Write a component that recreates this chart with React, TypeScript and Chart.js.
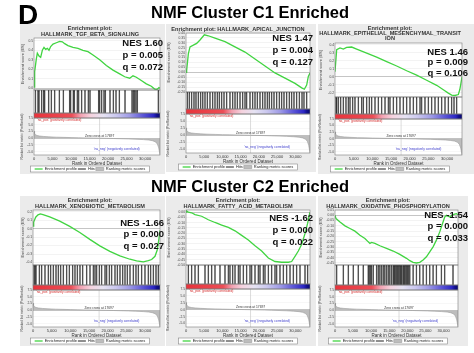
import React, { useEffect, useRef } from "react";
import { Chart, registerables } from "chart.js";

Chart.register(...registerables);
const FONT = '"Liberation Sans", Arial, Helvetica, sans-serif';
Chart.defaults.font.family = FONT;

// ---------------- data ----------------
const X_MAX = 34000;
const xTickValues = [0, 5000, 10000, 15000, 20000, 25000, 30000];
const rankTickValues = [-5, -2.5, 0, 2.5, 5, 7.5];
const zeroCross = 17697;
const negLabelRank = 28500;

const rankedX = [0, 150, 400, 800, 1500, 2500, 4000, 6000, 8000, 10000, 12000, 14000, 16000, 17697, 19500, 21500, 23500, 25500, 27500, 29500, 31000, 32000, 32800, 33300, 33650, 34000];
const rankedY = [2.6, 1.8, 1.3, 1.0, 0.8, 0.65, 0.5, 0.38, 0.3, 0.22, 0.16, 0.1, 0.05, 0, -0.06, -0.12, -0.2, -0.28, -0.38, -0.52, -0.7, -0.95, -1.4, -2.2, -3.6, -6.2];

const titles1 = ["Enrichment plot:", "HALLMARK_TGF_BETA_SIGNALING"];
const titles2 = ["Enrichment plot: HALLMARK_APICAL_JUNCTION"];
const titles3 = ["Enrichment plot:", "HALLMARK_EPITHELIAL_MESENCHYMAL_TRANSIT", "ION"];
const titles4 = ["Enrichment plot:", "HALLMARK_XENOBIOTIC_METABOLISM"];
const titles5 = ["Enrichment plot:", "HALLMARK_FATTY_ACID_METABOLISM"];
const titles6 = ["Enrichment plot:", "HALLMARK_OXIDATIVE_PHOSPHORYLATION"];

const es1Rank = [0, 180, 630, 900, 1350, 1800, 2250, 2700, 3150, 3600, 4050, 4500, 5130, 6030, 6930, 7650, 8280, 9170, 10520, 11870, 13220, 14570, 15920, 17720, 19520, 21320, 23120, 24470, 25820, 26710, 27610, 28960, 30310, 31660, 32560, 33190, 33730, 34000];
const es1Val = [0.01, 0.175, 0.31, 0.37, 0.34, 0.325, 0.4, 0.43, 0.41, 0.42, 0.4, 0.44, 0.465, 0.48, 0.495, 0.49, 0.47, 0.45, 0.43, 0.42, 0.4, 0.385, 0.35, 0.3, 0.24, 0.19, 0.15, 0.12, 0.105, 0.13, 0.115, 0.08, 0.045, 0.02, -0.01, -0.015, 0.005, 0.0];
const es1Ticks = [0.0, 0.1, 0.2, 0.3, 0.4, 0.5];
const hits1 = [400, 1080, 1350, 2070, 2610, 2880, 3960, 4680, 5580, 6840, 7920, 9620, 9890, 10610, 10880, 11690, 12050, 12860, 13760, 14660, 15110, 17450, 17720, 18260, 18890, 19250, 20510, 21410, 22130, 23030, 24560, 26450, 26800, 27160, 27520, 27880, 33550];

const es2Rank = [0, 180, 640, 1100, 2010, 2920, 3840, 5030, 6120, 7950, 10690, 13430, 16180, 18920, 21660, 24400, 27150, 29890, 31720, 32450, 33090, 33540, 34000];
const es2Val = [0.0, 0.02, 0.188, 0.259, 0.276, 0.294, 0.329, 0.382, 0.372, 0.347, 0.312, 0.259, 0.206, 0.135, 0.065, -0.006, -0.059, -0.112, -0.158, -0.172, -0.129, -0.041, -0.006];
const es2Ticks = [-0.2, -0.15, -0.1, -0.05, 0.0, 0.05, 0.1, 0.15, 0.2, 0.25, 0.3, 0.35, 0.4];
const hits2 = [370, 910, 1550, 2190, 2740, 3380, 4020, 4600, 5210, 5850, 6580, 7310, 7950, 8590, 9140, 9780, 10420, 11150, 12060, 12800, 13440, 14080, 14810, 15540, 16180, 16630, 17550, 18280, 18920, 19560, 20290, 21020, 21660, 22300, 22850, 23490, 24130, 24860, 25590, 26230, 26870, 27600, 28330, 28970, 29610, 30340, 31080, 31810, 32350, 33090];

const es3Rank = [0, 450, 1340, 2230, 3120, 4460, 5800, 8480, 11150, 13830, 16510, 19190, 21860, 24540, 27220, 29000, 30340, 31230, 32130, 33020, 33400, 33700, 34000];
const es3Val = [0.063, 0.337, 0.358, 0.345, 0.366, 0.37, 0.345, 0.295, 0.244, 0.189, 0.135, 0.076, 0.021, -0.042, -0.105, -0.16, -0.202, -0.227, -0.231, -0.219, -0.16, -0.084, 0.0];
const es3Ticks = [-0.2, -0.1, 0.0, 0.1, 0.2, 0.3, 0.4];
const hits3 = [270, 450, 890, 1520, 2230, 2940, 3570, 4020, 4730, 5350, 6250, 7140, 7590, 8480, 9190, 9820, 10710, 11600, 12490, 13390, 14280, 14720, 15620, 16510, 17400, 18290, 19190, 20080, 20970, 21860, 22760, 23200, 24090, 24990, 25880, 26770, 27660, 28560, 29450, 30340, 31230, 31860, 32570];

const es4Rank = [0, 180, 720, 1340, 1970, 2680, 4470, 7160, 9840, 12530, 15210, 17890, 20580, 23260, 25950, 27740, 29530, 30870, 31760, 32660, 33280, 33730, 34000];
const es4Val = [0.03, 0.077, 0.135, 0.162, 0.173, 0.165, 0.138, 0.088, 0.027, -0.046, -0.127, -0.204, -0.269, -0.323, -0.362, -0.381, -0.392, -0.377, -0.365, -0.327, -0.25, -0.115, -0.02];
const es4Ticks = [-0.4, -0.3, -0.2, -0.1, 0.0, 0.1, 0.2];
const hits4 = [270, 540, 800, 1700, 2320, 3210, 4100, 4730, 5440, 6160, 6780, 7410, 8120, 9010, 9730, 10620, 11240, 11870, 12580, 13300, 14370, 15260, 16150, 16600, 17040, 17760, 18380, 19280, 19720, 20440, 21060, 21950, 22580, 23290, 24010, 24630, 25250, 25970, 26860, 27570, 28200, 29090, 29980, 30870, 31500, 32220, 32930, 33550];

const es5Rank = [0, 180, 640, 1550, 2470, 4300, 6120, 7950, 9780, 11610, 13440, 15260, 17090, 18920, 20750, 22580, 24400, 26230, 28060, 28970, 29890, 30800, 31720, 32630, 33360, 33730, 34000];
const es5Val = [0.0, 0.01, 0.0, -0.006, -0.023, -0.039, -0.072, -0.098, -0.122, -0.145, -0.177, -0.22, -0.263, -0.319, -0.368, -0.434, -0.467, -0.474, -0.474, -0.467, -0.418, -0.368, -0.303, -0.204, -0.105, -0.039, 0.0];
const es5Ticks = [-0.5, -0.45, -0.4, -0.35, -0.3, -0.25, -0.2, -0.15, -0.1, -0.05, 0.0];
const hits5 = [640, 1550, 2470, 3380, 5210, 6120, 7040, 7950, 9320, 10690, 11610, 12060, 12800, 13440, 14350, 14810, 15720, 16630, 17550, 18010, 18920, 19830, 20290, 21200, 21660, 22580, 23490, 24400, 24860, 25770, 26690, 27600, 28520, 29430, 30340, 31260, 32630, 33360];

const es6Rank = [0, 280, 1380, 2760, 4140, 5510, 6890, 8270, 9190, 9650, 10110, 11030, 12410, 14240, 16080, 17920, 19760, 20680, 21590, 22510, 23430, 24350, 25270, 26190, 27110, 28030, 28950, 29870, 30320, 30780, 31700, 32620, 33540, 34000];
const es6Val = [0.0, -0.031, -0.063, -0.1, -0.125, -0.15, -0.188, -0.219, -0.251, -0.266, -0.257, -0.266, -0.288, -0.313, -0.338, -0.37, -0.407, -0.429, -0.445, -0.451, -0.445, -0.423, -0.392, -0.345, -0.298, -0.235, -0.157, -0.063, -0.016, 0.0, -0.016, 0.006, 0.016, 0.006];
const es6Ticks = [-0.45, -0.4, -0.35, -0.3, -0.25, -0.2, -0.15, -0.1, -0.05, 0.0, 0.05];
const hits6 = [460, 2300, 3680, 5050, 6430, 7810, 9190, 9460, 9830, 10110, 10570, 11490, 11950, 12410, 12860, 13320, 13780, 14240, 14700, 15160, 15620, 16080, 16360, 16630, 17000, 17280, 17550, 17920, 18190, 18470, 18840, 19110, 19390, 19760, 20030, 20310, 20680, 21590, 22510, 23430, 24350, 25270, 26190, 27110, 28030, 29410, 30320, 32620];

const nesValues = [1.6, 1.47, 1.46, -1.66, -1.62, -1.54];
const pValues = [0.005, 0.004, 0.009, 0.0, 0.0, 0.0];
const qValues = [0.072, 0.127, 0.106, 0.027, 0.022, 0.033];

const posLabel = "'na_pos' (positively correlated)";
const negLabel = "'na_neg' (negatively correlated)";

// ---------------- styles ----------------
const GREEN = "#41d441";
const gradStops = [0, 0.3, 0.37, 0.45, 0.55, 0.65, 0.76, 0.86, 0.95, 0.975, 1];
const gradColors = ["#e8333b", "#ec4d56", "#f2a0b0", "#f5d2de", "#e6e3f3", "#cbc8ef", "#9e9ae6", "#5f59d8", "#2c26c4", "#12108c", "#0a0a70"];

const panels = [
  { left: 20, top: 24, width: 145, height: 150, axisW: 14, padR: 5, title: titles1, tLH: 6, tPad: { top: 1, bottom: 1 }, weights: [52, 23, 5, 37], esRank: es1Rank, esVal: es1Val, esTicks: es1Ticks, esMin: -0.02, esMax: 0.53, dec: 1, hits: hits1, nesRight: 163, nesTop: 37, nesLH: 12 },
  { left: 166, top: 24, width: 150, height: 148, axisW: 20, padR: 6, title: titles2, tLH: 6, tPad: { top: 2, bottom: 1 }, weights: [59, 17, 5, 39], esRank: es2Rank, esVal: es2Val, esTicks: es2Ticks, esMin: -0.2, esMax: 0.4, dec: 2, hits: hits2, nesRight: 313, nesTop: 32, nesLH: 12 },
  { left: 318, top: 24, width: 156, height: 150, axisW: 17, padR: 12, title: titles3, tLH: 5, tPad: { top: 2, bottom: 2 }, weights: [54, 17, 5, 36], esRank: es3Rank, esVal: es3Val, esTicks: es3Ticks, esMin: -0.25, esMax: 0.42, dec: 1, hits: hits3, nesRight: 468, nesTop: 46.5, nesLH: 10.5 },
  { left: 20, top: 196, width: 145, height: 150, axisW: 13, padR: 5, title: titles4, tLH: 6, tPad: { top: 1, bottom: 1 }, weights: [55, 20, 5, 37], esRank: es4Rank, esVal: es4Val, esTicks: es4Ticks, esMin: -0.43, esMax: 0.22, dec: 1, hits: hits4, nesRight: 164, nesTop: 216.5, nesLH: 11.5 },
  { left: 166, top: 196, width: 150, height: 150, axisW: 20, padR: 6, title: titles5, tLH: 6, tPad: { top: 1, bottom: 1 }, weights: [55, 19, 5, 38], esRank: es5Rank, esVal: es5Val, esTicks: es5Ticks, esMin: -0.5, esMax: 0.02, dec: 2, hits: hits5, nesRight: 313, nesTop: 212, nesLH: 12 },
  { left: 318, top: 196, width: 150, height: 150, axisW: 17, padR: 10, title: titles6, tLH: 6, tPad: { top: 1, bottom: 1 }, weights: [55, 20, 5, 37], esRank: es6Rank, esVal: es6Val, esTicks: es6Ticks, esMin: -0.47, esMax: 0.05, dec: 2, hits: hits6, nesRight: 468, nesTop: 208.5, nesLH: 11.5 },
];

// ---------------- plugins ----------------
const whiteArea = {
  id: "whiteArea",
  beforeDraw(chart: any) {
    const a = chart.chartArea;
    const c = chart.ctx;
    c.save();
    c.fillStyle = "#ffffff";
    c.fillRect(a.left, a.top, a.right - a.left, a.bottom - a.top);
    c.restore();
  },
};

const frames = {
  id: "frames",
  afterDatasetsDraw(chart: any) {
    const a = chart.chartArea;
    const c = chart.ctx;
    c.save();
    c.strokeStyle = "#7a7a7a";
    c.lineWidth = 0.6;
    ["yES", "yHit", "yBar", "yRank"].forEach((id) => {
      const s = chart.scales[id];
      c.strokeRect(a.left, s.top, a.right - a.left, s.bottom - s.top);
    });
    c.restore();
  },
};

const rankText = {
  id: "rankText",
  afterDatasetsDraw(chart: any) {
    const x = chart.scales.x;
    const y = chart.scales.yRank;
    const c = chart.ctx;
    c.save();
    c.font = `3.3px ${FONT}`;
    c.textBaseline = "middle";
    c.fillStyle = "#d42a2a";
    c.textAlign = "left";
    c.fillText(posLabel, x.left + 3, y.top + 2.2);
    c.fillStyle = "#333";
    c.textAlign = "center";
    c.fillText(`Zero cross at ${zeroCross}`, x.getPixelForValue(zeroCross), y.getPixelForValue(0) - 2.5);
    c.fillStyle = "#3a3acc";
    c.textAlign = "right";
    c.fillText(negLabel, x.getPixelForValue(negLabelRank), y.bottom - 6);
    c.restore();
  },
};

const legendBox = {
  id: "legendBox",
  afterDraw(chart: any) {
    const lg = chart.legend;
    if (!lg || !lg.legendHitBoxes || !lg.legendHitBoxes.length) return;
    const hb = lg.legendHitBoxes;
    const l = Math.min(...hb.map((h: any) => h.left)) - 4;
    const r = Math.max(...hb.map((h: any) => h.left + h.width)) + 4;
    const t = Math.min(...hb.map((h: any) => h.top)) - 1;
    const b = Math.max(...hb.map((h: any) => h.top + h.height)) + 1;
    const c = chart.ctx;
    c.save();
    c.strokeStyle = "#888";
    c.lineWidth = 0.6;
    c.fillStyle = "#ffffff";
    c.globalCompositeOperation = "destination-over";
    c.fillRect(l, t, r - l, b - t);
    c.globalCompositeOperation = "source-over";
    c.strokeRect(l, t, r - l, b - t);
    c.restore();
  },
};

function barGradient(ctx: any) {
  const chart = ctx.chart;
  const a = chart.chartArea;
  if (!a) return "rgba(0,0,0,0)";
  const g = chart.ctx.createLinearGradient(a.left, 0, a.right, 0);
  gradStops.forEach((s, i) => g.addColorStop(s, gradColors[i]));
  return g;
}

function buildConfig(p: any): any {
  const fixW = (s: any) => {
    s.width = p.axisW;
  };
  const yCommon = { type: "linear", position: "left", stack: "gsea", afterFit: fixW, border: { display: false } };
  return {
    type: "line",
    data: {
      datasets: [
        {
          label: "Enrichment profile",
          data: p.esRank.map((x: number, i: number) => ({ x, y: p.esVal[i] })),
          yAxisID: "yES",
          borderColor: GREEN,
          backgroundColor: GREEN,
          borderWidth: 1.3,
          pointRadius: 0,
          pointStyle: "line",
          fill: false,
          tension: 0,
        },
        {
          type: "bar",
          label: "Hits",
          data: p.hits.map((x: number) => ({ x, y: 1 })),
          yAxisID: "yHit",
          backgroundColor: "#1e1e1e",
          borderColor: "#1e1e1e",
          borderWidth: 1,
          barThickness: 1,
          pointStyle: "line",
        },
        {
          label: "Ranking metric scores",
          data: rankedX.map((x, i) => ({ x, y: rankedY[i] })),
          yAxisID: "yRank",
          borderColor: "#9a9a9a",
          backgroundColor: "#bdbdbd",
          borderWidth: 0.6,
          pointRadius: 0,
          pointStyle: "rect",
          fill: "origin",
          tension: 0,
        },
        {
          label: "",
          data: [{ x: 0, y: 1 }, { x: X_MAX, y: 1 }],
          yAxisID: "yBar",
          borderColor: "rgba(0,0,0,0)",
          borderWidth: 0,
          pointRadius: 0,
          backgroundColor: barGradient,
          fill: "origin",
        },
        {
          label: "",
          data: [{ x: zeroCross, y: rankTickValues[0] - 1.25 }, { x: zeroCross, y: rankTickValues[rankTickValues.length - 1] }],
          yAxisID: "yRank",
          borderColor: "#c4c4c4",
          borderWidth: 0.6,
          pointRadius: 0,
          fill: false,
        },
      ],
    },
    options: {
      responsive: false,
      animation: false,
      events: [],
      layout: { padding: { left: 0, right: p.padR, top: 0, bottom: 0 } },
      plugins: {
        tooltip: { enabled: false },
        title: {
          display: true,
          text: p.title,
          color: "#333",
          font: { size: 5.6, weight: "bold", lineHeight: `${p.tLH}px` },
          padding: p.tPad,
        },
        legend: {
          display: true,
          position: "bottom",
          maxHeight: 8,
          labels: {
            usePointStyle: true,
            pointStyleWidth: 8,
            boxWidth: 8,
            boxHeight: 3,
            padding: 1,
            color: "#222",
            font: { size: 4 },
            filter: (item: any) => item.text && item.text.length > 0,
          },
        },
      },
      scales: {
        x: {
          type: "linear",
          min: 0,
          max: X_MAX,
          offset: false,
          afterBuildTicks: (s: any) => {
            s.ticks = xTickValues.map((v) => ({ value: v }));
          },
          afterFit: (s: any) => {
            s.height = 11;
          },
          ticks: {
            autoSkip: false,
            maxRotation: 0,
            padding: 1,
            color: "#333",
            font: { size: 4 },
            callback: (v: any) => Number(v).toLocaleString("en-US"),
          },
          grid: { display: false, drawTicks: false },
          border: { display: false },
          title: { display: true, text: "Rank in Ordered Dataset", color: "#333", font: { size: 4.5 }, padding: 0 },
        },
        yRank: {
          ...yCommon,
          weight: 1,
          stackWeight: p.weights[3],
          min: rankTickValues[0] - 1.25,
          max: rankTickValues[rankTickValues.length - 1],
          afterBuildTicks: (s: any) => {
            s.ticks = rankTickValues.map((v) => ({ value: v }));
          },
          ticks: { autoSkip: false, padding: 1, color: "#444", font: { size: 3.3 }, callback: (v: any) => Number(v).toFixed(1) },
          grid: { drawTicks: false, lineWidth: 0.5, color: (c: any) => (c.tick && c.tick.value === 0 ? "#8a8a8a" : "#eeeeee") },
          title: { display: true, text: "Ranked list metric (PreRanked)", color: "#444", font: { size: 3.3 }, padding: 0 },
        },
        yBar: {
          ...yCommon,
          weight: 2,
          stackWeight: p.weights[2],
          min: 0,
          max: 1,
          ticks: { display: false },
          grid: { display: false },
        },
        yHit: {
          ...yCommon,
          weight: 3,
          stackWeight: p.weights[1],
          min: 0,
          max: 1,
          ticks: { display: false },
          grid: { display: false },
        },
        yES: {
          ...yCommon,
          weight: 4,
          stackWeight: p.weights[0],
          min: p.esMin,
          max: p.esMax,
          afterBuildTicks: (s: any) => {
            s.ticks = p.esTicks.map((v: number) => ({ value: v }));
          },
          ticks: { autoSkip: false, padding: 1, color: "#444", font: { size: 3.3 }, callback: (v: any) => Number(v).toFixed(p.dec) },
          grid: {
            drawTicks: false,
            lineWidth: 0.5,
            color: (c: any) => (c.tick && Math.abs(c.tick.value) < 1e-9 ? "#8a8a8a" : "#e6e6e6"),
          },
          title: { display: true, text: "Enrichment score (ES)", color: "#444", font: { size: 4 }, padding: 0 },
        },
      },
    },
    plugins: [whiteArea, frames, rankText, legendBox],
  };
}

function Panel({ p }: { p: any }) {
  const ref = useRef<HTMLCanvasElement>(null);
  useEffect(() => {
    if (!ref.current) return;
    const chart = new Chart(ref.current, buildConfig(p));
    return () => chart.destroy();
  }, []);
  return (
    <div
      style={{
        position: "absolute",
        left: p.left,
        top: p.top,
        width: p.width,
        height: p.height,
        overflow: "hidden",
        background: "#ebebeb",
      }}
    >
      <canvas ref={ref} width={p.width} height={p.height} style={{ display: "block", width: p.width, height: p.height }} />
    </div>
  );
}

function Stats({ p, i }: { p: any; i: number }) {
  const lines = [`NES ${nesValues[i].toFixed(2)}`, `p = ${pValues[i].toFixed(3)}`, `q = ${qValues[i].toFixed(3)}`];
  return (
    <div
      style={{
        position: "absolute",
        right: 474 - p.nesRight,
        top: p.nesTop,
        textAlign: "right",
        fontFamily: FONT,
        fontWeight: "bold",
        fontSize: 9.5,
        lineHeight: `${p.nesLH}px`,
        color: "#111",
        whiteSpace: "pre",
      }}
    >
      {lines.map((l, k) => (
        <div key={k}>{l}</div>
      ))}
    </div>
  );
}

const headingStyle: any = {
  position: "absolute",
  fontFamily: FONT,
  fontWeight: "bold",
  lineHeight: 1,
  color: "#000",
  whiteSpace: "nowrap",
};

export default function App() {
  return (
    <div style={{ position: "absolute", left: 0, top: 0, width: 474, height: 353, background: "#fff", overflow: "hidden" }}>
      {panels.map((p, i) => (
        <Panel key={i} p={p} />
      ))}
      {panels.map((p, i) => (
        <Stats key={"s" + i} p={p} i={i} />
      ))}
      <div style={{ ...headingStyle, left: 18, top: 1.3, fontSize: 28 }}>D</div>
      <div style={{ ...headingStyle, left: 100, width: 300, textAlign: "center", top: 4.3, fontSize: 16.5 }}>NMF Cluster C1 Enriched</div>
      <div style={{ ...headingStyle, left: 100, width: 300, textAlign: "center", top: 178, fontSize: 16.5 }}>NMF Cluster C2 Enriched</div>
    </div>
  );
}
